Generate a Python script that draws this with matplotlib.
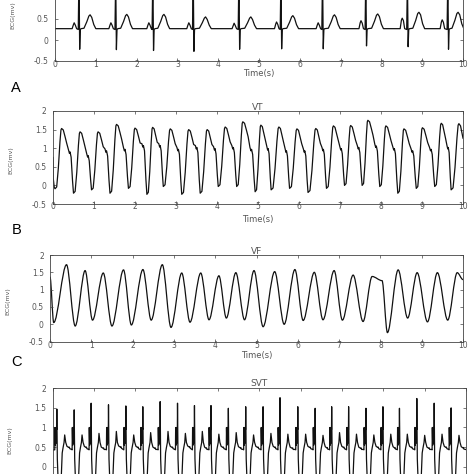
import matplotlib
matplotlib.use("Agg")
import matplotlib.pyplot as plt
from matplotlib.path import Path
from matplotlib.patches import PathPatch

# ---------------- data ----------------
# Top panel (normal sinus rhythm, only lower part visible)
nsr_base = 0.27
nsr_p_t = [0.47, 1.37, 2.30, 3.28, 4.39, 5.43, 6.45, 7.50, 8.51, 9.49]
nsr_p_v = [0.41, 0.41, 0.41, 0.41, 0.40, 0.43, 0.41, 0.46, 0.52, 0.48]
nsr_r_t = [0.59, 1.49, 2.40, 3.39, 4.51, 5.54, 6.56, 7.62, 8.64, 9.63]
nsr_r_v = [1.40, 1.30, 1.40, 1.40, 1.40, 1.35, 1.40, 1.35, 1.30, 1.35]
nsr_s_v = [-0.22, -0.23, -0.25, -0.27, -0.22, -0.21, -0.21, -0.14, -0.16, -0.22]
nsr_t_t = [0.86, 1.76, 2.67, 3.69, 4.80, 5.83, 6.85, 7.91, 8.92, 9.88]
nsr_t_v = [0.60, 0.61, 0.61, 0.55, 0.55, 0.58, 0.60, 0.62, 0.66, 0.66]

# A: VT
vt_peak_t = [0.21, 0.66, 1.10, 1.55, 2.00, 2.43, 2.86, 3.31, 3.76, 4.20, 4.63, 5.07,
             5.51, 5.95, 6.41, 6.84, 7.26, 7.68, 8.12, 8.56, 9.01, 9.47, 9.90]
vt_peak_v = [1.53, 1.44, 1.44, 1.64, 1.54, 1.56, 1.52, 1.50, 1.50, 1.57, 1.71, 1.62,
             1.57, 1.52, 1.53, 1.60, 1.61, 1.75, 1.60, 1.52, 1.55, 1.67, 1.66]
vt_trough_t = [0.50, 0.94, 1.39, 1.84, 2.29, 2.69, 3.14, 3.59, 4.03, 4.48, 4.93,
               5.32, 5.77, 6.22, 6.67, 7.11, 7.54, 7.97, 8.41, 8.86, 9.31, 9.71]
vt_trough_v = [-0.21, -0.12, -0.21, -0.08, -0.24, -0.03, -0.24, -0.21, -0.03, -0.03, -0.17,
               -0.12, -0.08, -0.19, -0.08, 0.00, 0.00, -0.03, -0.21, -0.08, -0.03, -0.12]
vt_shoulder_v = [0.88, 0.78, 0.91, 0.95, 1.05, 1.05, 0.95, 1.00, 0.97, 1.00, 0.95,
                 0.97, 0.91, 0.91, 0.95, 0.97, 1.00, 1.04, 0.97, 0.91, 0.95, 1.00]
vt_start_t = [0.0, 0.005, 0.03, 0.05]
vt_start_v = [0.75, 0.20, -0.05, -0.09]
vt_end_t, vt_end_v = 10.0, 1.27

# B: VF
vf_trough_t = [0.09, 0.61, 1.03, 1.50, 1.97, 2.45, 2.93, 3.39, 3.85, 4.27, 4.71,
               5.16, 5.67, 6.13, 6.61, 7.08, 7.58, 8.17, 8.66, 9.14, 9.63]
vf_trough_v = [0.05, -0.05, 0.12, -0.05, -0.02, 0.12, -0.09, 0.06, 0.13, 0.18, 0.13,
               -0.07, 0.00, 0.11, 0.13, 0.12, 0.08, -0.24, 0.18, 0.07, 0.12]
vf_peak_t = [0.40, 0.85, 1.29, 1.78, 2.25, 2.72, 3.19, 3.65, 4.09, 4.50, 4.94,
             5.44, 5.93, 6.40, 6.88, 7.34, 7.80, 8.43, 8.89, 9.38, 9.86]
vf_peak_v = [1.72, 1.55, 1.48, 1.57, 1.58, 1.72, 1.48, 1.48, 1.40, 1.49, 1.55,
             1.52, 1.58, 1.50, 1.55, 1.42, 1.38, 1.57, 1.49, 1.49, 1.49]
vf_extra_t = [8.04]
vf_extra_v = [1.26]
vf_start_v = 1.37
vf_end_v = 1.29

# C: SVT
svt_r_t = [0.10, 0.52, 0.93, 1.35, 1.77, 2.18, 2.60, 3.02, 3.43, 3.83, 4.25, 4.67,
           5.09, 5.50, 5.93, 6.35, 6.75, 7.16, 7.58, 7.99, 8.39, 8.81, 9.23, 9.64]
svt_r_v = [1.47, 1.45, 1.62, 1.58, 1.55, 1.53, 1.66, 1.62, 1.56, 1.56, 1.49, 1.53,
           1.53, 1.76, 1.53, 1.49, 1.53, 1.53, 1.49, 1.53, 1.49, 1.74, 1.62, 1.50]
svt_bump_v = [0.81, 0.81, 0.85, 0.90, 0.81, 0.87, 0.90, 0.85, 0.90, 0.83, 0.87, 0.81,
              0.85, 0.83, 0.83, 0.80, 0.87, 0.83, 0.81, 0.83, 0.83, 0.80, 0.83, 0.80]
svt_plateau_v = [0.52, 0.52, 0.50, 0.53, 0.52, 0.50, 0.52, 0.53, 0.50, 0.52, 0.51, 0.52,
                 0.52, 0.50, 0.52, 0.51, 0.52, 0.50, 0.52, 0.51, 0.52, 0.50, 0.52, 0.51]
svt_pre_v = 0.43
svt_step_v = 1.0
svt_s_v = -0.32

x_ticks = list(range(11))
y_ticks = [-0.5, 0, 0.5, 1, 1.5, 2]
y_ticklabels = ["-0.5", "0", "0.5", "1", "1.5", "2"]
titles = [None, "VT", "VF", "SVT"]
panel_letters = ["A", "B", "C"]

# ---------------- build traces ----------------
def build_nsr():
    t, v = [0.0], [nsr_base]
    b = nsr_base
    for i in range(len(nsr_r_t)):
        pt, pv = nsr_p_t[i], nsr_p_v[i]
        rt, rv, sv = nsr_r_t[i], nsr_r_v[i], nsr_s_v[i]
        tt, tv = nsr_t_t[i], nsr_t_v[i]
        t += [pt - 0.05, pt - 0.02, pt, pt + 0.03, pt + 0.06,
              rt - 0.02, rt - 0.005, rt, rt + 0.015, rt + 0.03, rt + 0.05,
              tt - 0.15, tt - 0.08, tt - 0.03, tt, tt + 0.04, tt + 0.09, tt + 0.14]
        v += [b, pv - 0.05, pv, pv - 0.06, b,
              b - 0.02, rv, rv, sv, b - 0.02, b,
              b + 0.01, b + 0.5 * (tv - b), tv - 0.03, tv, tv - 0.06, b + 0.3 * (tv - b), b]
    t.append(10.1)
    v.append(b)
    return t, v


def build_vt():
    t, v = list(vt_start_t), list(vt_start_v)
    n = len(vt_peak_t)
    prev_t, prev_v = vt_start_t[-1], vt_start_v[-1]
    for i in range(n):
        tp, vp = vt_peak_t[i], vt_peak_v[i]
        e = tp - prev_t
        t += [prev_t + 0.25 * e, prev_t + 0.5 * e, prev_t + 0.75 * e, prev_t + 0.9 * e, tp]
        v += [prev_v + 0.03 * (vp - prev_v), prev_v + 0.34 * (vp - prev_v),
              prev_v + 0.78 * (vp - prev_v), vp - 0.04, vp]
        if i < n - 1:
            ttr, vtr, vs = vt_trough_t[i], vt_trough_v[i], vt_shoulder_v[i]
            d = ttr - tp
            t += [tp + 0.14 * d, tp + 0.29 * d, tp + 0.43 * d, tp + 0.58 * d,
                  tp + 0.66 * d, tp + 0.71 * d, tp + 0.8 * d, tp + 0.92 * d, ttr]
            v += [vp - 0.04, vp - 0.22, vp - 0.40, vs + 0.07,
                  vs - 0.02, vs + 0.02, vs - 0.12, vtr + 0.3 * (vs - vtr), vtr]
            prev_t, prev_v = ttr, vtr
    t += [vt_peak_t[-1] + 0.04, vt_end_t]
    v += [vt_peak_v[-1] - 0.06, vt_end_v]
    return t, v


def build_vf_path():
    pts = [(0.0, vf_start_v)]
    for i in range(len(vf_trough_t)):
        pts.append((vf_trough_t[i], vf_trough_v[i]))
        pts.append((vf_peak_t[i], vf_peak_v[i]))
    for et, ev in zip(vf_extra_t, vf_extra_v):
        pts.append((et, ev))
    pts.append((10.0, vf_end_v))
    pts.sort()
    verts = [pts[0]]
    codes = [Path.MOVETO]
    k = 0.33
    for (t0, v0), (t1, v1) in zip(pts[:-1], pts[1:]):
        dt = t1 - t0
        verts += [(t0 + k * dt, v0), (t1 - k * dt, v1), (t1, v1)]
        codes += [Path.CURVE4] * 3
    return Path(verts, codes)


def build_svt():
    t, v = [0.0], [svt_pre_v]
    n = len(svt_r_t)
    for i in range(n):
        r, rv = svt_r_t[i], svt_r_v[i]
        bv, pl = svt_bump_v[i], svt_plateau_v[i]
        t += [r - 0.05, r - 0.045, r - 0.035, r - 0.028, r - 0.02, r - 0.012, r - 0.004, r,
              r + 0.012, r + 0.03, r + 0.105, r + 0.13, r + 0.15, r + 0.175, r + 0.19,
              r + 0.215, r + 0.245]
        v += [svt_pre_v, svt_step_v, 0.55, svt_step_v, 0.6, svt_step_v, 0.95, rv,
              0.2, svt_s_v, svt_s_v, 0.35, 0.48, 0.62, bv,
              0.62, pl]
        nxt = svt_r_t[i + 1] if i < n - 1 else 10.05
        gap = nxt - 0.05 - (r + 0.245)
        t += [r + 0.245 + 0.35 * gap, r + 0.245 + 0.45 * gap, r + 0.245 + 0.55 * gap,
              r + 0.245 + 0.9 * gap]
        v += [pl - 0.03, pl - 0.02, pl - 0.06, svt_pre_v + 0.01]
    return t, v


# ---------------- figure ----------------
W = 474.0
fig = plt.figure(figsize=(4.74, 4.74), dpi=100)
fig.patch.set_facecolor("white")

# axes boxes in pixels: left, top, right, bottom
boxes = [(55, -44, 463, 61), (53, 111, 463, 204), (50, 255, 463, 341.6), (52.7, 388.3, 466, 486.3)]
axes = []
for (l, tp_, r, b) in boxes:
    ax = fig.add_axes([l / W, 1 - b / W, (r - l) / W, (b - tp_) / W])
    axes.append(ax)

line_kw = dict(color="#111111", lw=0.9)
tx, tv_ = build_nsr()
axes[0].plot(tx, tv_, **line_kw)
tx, tv_ = build_vt()
axes[1].plot(tx, tv_, **line_kw)
axes[2].add_patch(PathPatch(build_vf_path(), facecolor="none", edgecolor="#111111", lw=0.9))
tx, tv_ = build_svt()
axes[3].plot(tx, tv_, **line_kw)

txt_col = "#555555"
xlabel_y = [-0.075, -0.12, -0.105, None]
xtick_pad = [-1.0, -1.5, -0.3, 0.3]
ylabel_y = [0.44, 0.47, 0.47, 0.47]
for i, ax in enumerate(axes):
    ax.set_xlim(0, 10)
    ax.set_ylim(-0.5, 2)
    ax.set_xticks(x_ticks)
    ax.set_yticks(y_ticks)
    if i == 3:
        ax.set_xticklabels([""] * len(x_ticks))
    else:
        ax.set_xticklabels([str(x) for x in x_ticks])
    if i == 0:
        ax.set_yticklabels([s if y <= 0.5 else "" for s, y in zip(y_ticklabels, y_ticks)])
    elif i == 3:
        ax.set_yticklabels([s if y >= 0 else "" for s, y in zip(y_ticklabels, y_ticks)])
    else:
        ax.set_yticklabels(y_ticklabels)
    ax.tick_params(direction="in", length=2.5, width=0.5, top=True, right=True,
                   labelsize=5.5, labelcolor=txt_col, color="#444444")
    ax.tick_params(axis="x", pad=xtick_pad[i])
    ax.tick_params(axis="y", pad=4.5)
    for s in ax.spines.values():
        s.set_linewidth(0.6)
        s.set_color("#444444")
    ax.set_ylabel("ECG(mv)", fontsize=4.5, color=txt_col)
    ax.yaxis.set_label_coords(-0.097, ylabel_y[i])
    if xlabel_y[i] is not None:
        ax.set_xlabel("Time(s)", fontsize=6, color=txt_col)
        ax.xaxis.set_label_coords(0.5, xlabel_y[i])
    if titles[i]:
        ax.set_title(titles[i], fontsize=6.5, color=txt_col, pad=0.8)

letter_pos = [(16, 88), (16.5, 230), (17, 362)]
for lab, (px, py) in zip(panel_letters, letter_pos):
    fig.text(px / W, 1 - py / W, lab, fontsize=10.5, family="Liberation Sans",
             ha="center", va="center", color="black")

fig.savefig("out.png", dpi=100, facecolor="white")
